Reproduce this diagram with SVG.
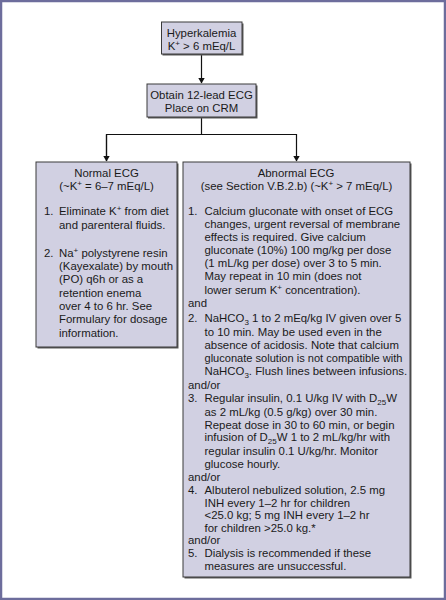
<svg xmlns="http://www.w3.org/2000/svg" width="446" height="600" viewBox="0 0 446 600">
<style>
.bg{fill:#ffffff;stroke:#6d6d9c;stroke-width:2.5}
.box{fill:#d1d0e2;stroke:#3a3a3a;stroke-width:1}
.sh{fill:#5a5a5a}
.t{font-family:"Liberation Sans",Arial,sans-serif;font-size:11.4px;fill:#1a1a1a}
.c{text-anchor:middle}
.ln{fill:none;stroke:#111;stroke-width:1.2}
</style>
<defs>
<marker id="ah" markerWidth="6" markerHeight="7" refX="5.5" refY="3.5" orient="auto" markerUnits="userSpaceOnUse">
<path d="M0,0 L6,3.5 L0,7 Z" fill="#111"/>
</marker>
</defs>
<rect class="bg" x="1" y="1" width="444" height="598"/>
<g id="connectors">
<line class="ln" x1="201.5" y1="54" x2="201.5" y2="83" marker-end="url(#ah)"/>
<polyline class="ln" points="201.5,117 201.5,134.5"/>
<polyline class="ln" points="106.5,161 106.5,134.5 296.5,134.5 296.5,161" marker-end="url(#ah)"/>
<line class="ln" x1="106.5" y1="134.5" x2="106.5" y2="161" marker-end="url(#ah)"/>
</g>
<g id="hyperkalemia">
<rect class="sh" x="162.5" y="23.5" width="81" height="32"/>
<rect class="box" x="161.5" y="22" width="80.5" height="32"/>
<text class="t c" x="201.5" y="37">Hyperkalemia</text>
<text class="t c" x="201.5" y="50">K<tspan font-size="8" dy="-4">+</tspan><tspan dy="4"> &gt; 6 mEq/L</tspan></text>
</g>
<g id="obtain-ecg">
<rect class="sh" x="148" y="85.5" width="109.5" height="33"/>
<rect class="box" x="147" y="84" width="109" height="33"/>
<text class="t c" x="201.5" y="98.5">Obtain 12-lead ECG</text>
<text class="t c" x="201.5" y="111.5">Place on CRM</text>
</g>
<g id="normal-ecg">
<rect class="sh" x="37.5" y="163.5" width="141" height="185"/>
<rect class="box" x="36" y="162" width="141" height="185"/>
<text class="t c" x="106.5" y="177">Normal ECG</text>
<text class="t c" x="106.5" y="190">(~K<tspan font-size="8" dy="-4">+</tspan><tspan dy="4"> = 6–7 mEq/L)</tspan></text>
<text class="t" x="44" y="215">1.</text>
<text class="t" x="59" y="215">Eliminate K<tspan font-size="8" dy="-4">+</tspan><tspan dy="4"> from diet</tspan></text>
<text class="t" x="59" y="229">and parenteral fluids.</text>
<text class="t" x="44" y="257">2.</text>
<text class="t" x="59" y="257">Na<tspan font-size="8" dy="-4">+</tspan><tspan dy="4"> polystyrene resin</tspan></text>
<text class="t" x="59" y="270">(Kayexalate) by mouth</text>
<text class="t" x="59" y="283">(PO) q6h or as a</text>
<text class="t" x="59" y="296.5">retention enema</text>
<text class="t" x="59" y="309.5">over 4 to 6 hr. See</text>
<text class="t" x="59" y="323">Formulary for dosage</text>
<text class="t" x="59" y="336.5">information.</text>
</g>
<g id="abnormal-ecg">
<rect class="sh" x="184.5" y="163.5" width="227" height="415"/>
<rect class="box" x="183" y="162" width="227" height="415"/>
<text class="t c" x="296" y="177">Abnormal ECG</text>
<text class="t c" x="296.5" y="190">(see Section V.B.2.b) (~K<tspan font-size="8" dy="-4">+</tspan><tspan dy="4"> &gt; 7 mEq/L)</tspan></text>
<text class="t" x="188" y="215">1.</text>
<text class="t" x="204.5" y="215">Calcium gluconate with onset of ECG</text>
<text class="t" x="204.5" y="228">changes, urgent reversal of membrane</text>
<text class="t" x="204.5" y="241">effects is required. Give calcium</text>
<text class="t" x="204.5" y="254">gluconate (10%) 100 mg/kg per dose</text>
<text class="t" x="204.5" y="267">(1 mL/kg per dose) over 3 to 5 min.</text>
<text class="t" x="204.5" y="280">May repeat in 10 min (does not</text>
<text class="t" x="204.5" y="293.5">lower serum K<tspan font-size="8" dy="-4">+</tspan><tspan dy="4"> concentration).</tspan></text>
<text class="t" x="188" y="307">and</text>
<text class="t" x="188" y="322">2.</text>
<text class="t" x="204.5" y="322">NaHCO<tspan font-size="8" dy="3">3</tspan><tspan dy="-3"> 1 to 2 mEq/kg IV given over 5</tspan></text>
<text class="t" x="204.5" y="335.5">to 10 min. May be used even in the</text>
<text class="t" x="204.5" y="349">absence of acidosis. Note that calcium</text>
<text class="t" x="204.5" y="362" textLength="198" lengthAdjust="spacingAndGlyphs">gluconate solution is not compatible with</text>
<text class="t" x="204.5" y="375">NaHCO<tspan font-size="8" dy="3">3</tspan><tspan dy="-3">. Flush lines between infusions.</tspan></text>
<text class="t" x="188" y="388.5">and/or</text>
<text class="t" x="188" y="402">3.</text>
<text class="t" x="204.5" y="402">Regular insulin, 0.1 U/kg IV with D<tspan font-size="8" dy="3">25</tspan><tspan dy="-3">W</tspan></text>
<text class="t" x="204.5" y="415.5">as 2 mL/kg (0.5 g/kg) over 30 min.</text>
<text class="t" x="204.5" y="428.5">Repeat dose in 30 to 60 min, or begin</text>
<text class="t" x="204.5" y="441">infusion of D<tspan font-size="8" dy="3">25</tspan><tspan dy="-3">W 1 to 2 mL/kg/hr with</tspan></text>
<text class="t" x="204.5" y="454.5">regular insulin 0.1 U/kg/hr. Monitor</text>
<text class="t" x="204.5" y="468">glucose hourly.</text>
<text class="t" x="188" y="480.5">and/or</text>
<text class="t" x="188" y="494">4.</text>
<text class="t" x="204.5" y="494">Albuterol nebulized solution, 2.5 mg</text>
<text class="t" x="204.5" y="506.5">INH every 1–2 hr for children</text>
<text class="t" x="204.5" y="519">&lt;25.0 kg; 5 mg INH every 1–2 hr</text>
<text class="t" x="204.5" y="531.5">for children &gt;25.0 kg.*</text>
<text class="t" x="188" y="543.5">and/or</text>
<text class="t" x="188" y="557">5.</text>
<text class="t" x="204.5" y="557">Dialysis is recommended if these</text>
<text class="t" x="204.5" y="570">measures are unsuccessful.</text>
</g>
</svg>
